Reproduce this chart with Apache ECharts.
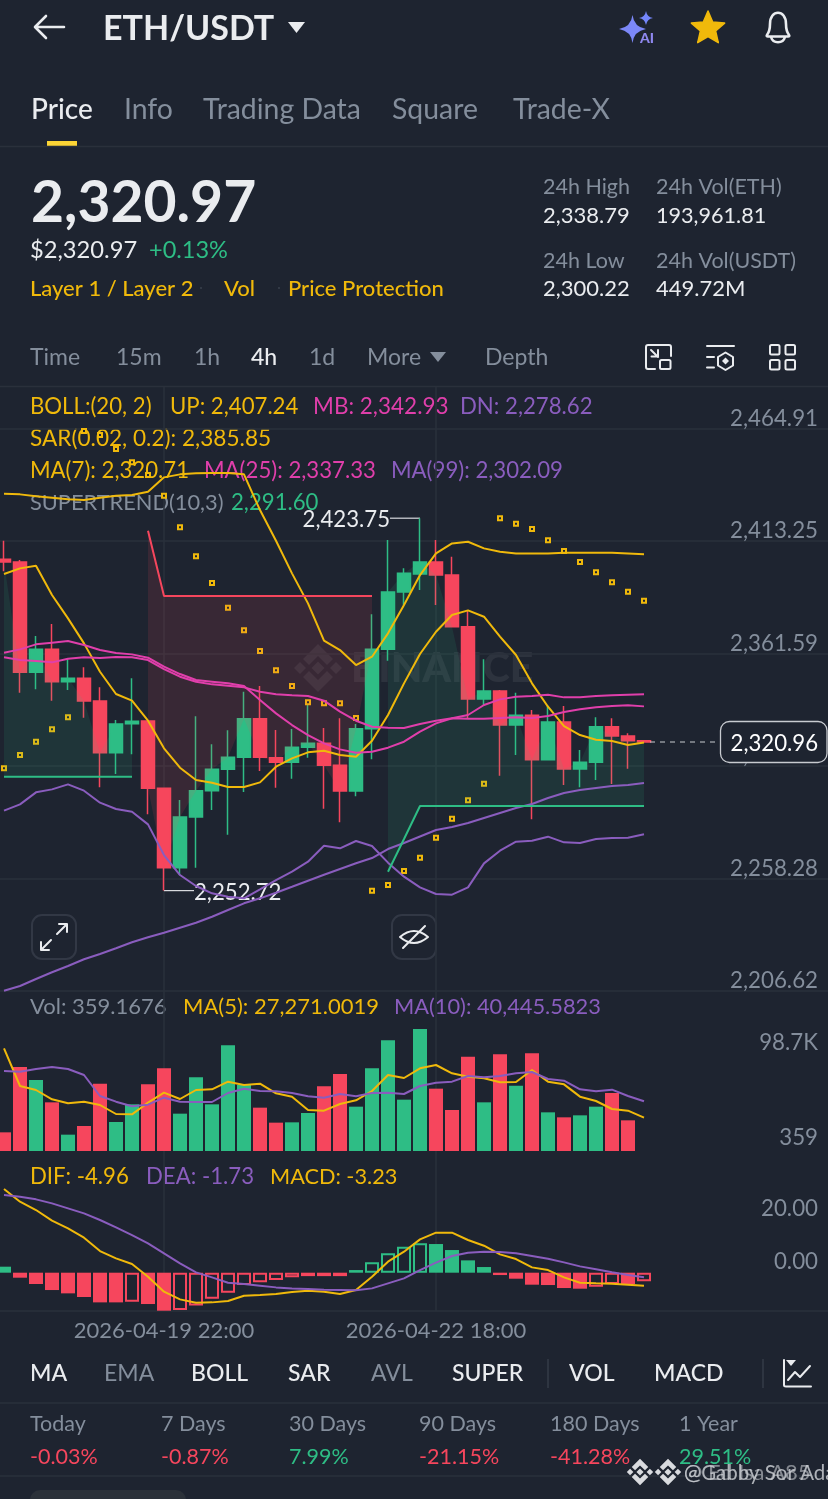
<!DOCTYPE html>
<html>
<head>
<meta charset="utf-8">
<script src="https://cdn.jsdelivr.net/npm/echarts@6/dist/echarts.min.js"></script>
<style>html,body{margin:0;padding:0;background:#1E2430}#c{width:828px;height:1499px}</style>
</head>
<body>
<div id="c"></div>
<script>
var categories = ['2026-04-18 06:00','2026-04-18 10:00','2026-04-18 14:00','2026-04-18 18:00','2026-04-18 22:00','2026-04-19 02:00','2026-04-19 06:00','2026-04-19 10:00','2026-04-19 14:00','2026-04-19 18:00','2026-04-19 22:00','2026-04-20 02:00','2026-04-20 06:00','2026-04-20 10:00','2026-04-20 14:00','2026-04-20 18:00','2026-04-20 22:00','2026-04-21 02:00','2026-04-21 06:00','2026-04-21 10:00','2026-04-21 14:00','2026-04-21 18:00','2026-04-21 22:00','2026-04-22 02:00','2026-04-22 06:00','2026-04-22 10:00','2026-04-22 14:00','2026-04-22 18:00','2026-04-22 22:00','2026-04-23 02:00','2026-04-23 06:00','2026-04-23 10:00','2026-04-23 14:00','2026-04-23 18:00','2026-04-23 22:00','2026-04-24 02:00','2026-04-24 06:00','2026-04-24 10:00','2026-04-24 14:00','2026-04-24 18:00','2026-04-24 22:00','','','','','','','','','','',''];
var dateLabels = ['2026-04-19 22:00','2026-04-22 18:00'];
var opens = [2404.85,2403.61,2352.96,2363.52,2348.64,2350.20,2339.78,2316.04,2329.36,2330.60,2299.69,2263.24,2286.52,2298.59,2308.42,2313.93,2331.65,2313.75,2311.63,2318.52,2320.36,2310.26,2298.45,2327.06,2363.52,2389.83,2398.10,2403.61,2397.64,2373.90,2340.70,2344.37,2328.76,2333.22,2312.83,2330.14,2308.56,2311.63,2327.98,2323.71,2321.55];
var closes = [2403.61,2352.96,2363.52,2348.64,2350.20,2339.78,2316.04,2329.22,2330.46,2299.69,2263.24,2286.52,2298.59,2308.42,2313.93,2331.65,2313.93,2311.63,2318.52,2320.36,2310.26,2298.45,2327.06,2363.52,2389.83,2398.42,2403.61,2397.64,2373.90,2340.70,2344.37,2328.76,2333.22,2312.83,2330.14,2308.56,2311.63,2327.98,2323.71,2321.55,2320.97];
var lows = [2399.34,2343.59,2345.15,2339.92,2344.83,2332.11,2300.15,2306.26,2315.31,2287.76,2252.72,2259.88,2263.24,2289.73,2278.39,2298.00,2307.64,2299.97,2304.10,2313.75,2290.33,2284.08,2296.02,2313.01,2358.29,2383.86,2390.75,2383.86,2373.90,2331.84,2337.94,2305.48,2314.99,2285.46,2312.83,2301.21,2300.15,2303.51,2301.67,2308.70,2320.63];
var highs = [2413.39,2404.53,2369.63,2375.14,2358.93,2355.26,2346.07,2331.06,2350.20,2330.60,2299.69,2294.32,2332.76,2319.90,2326.33,2344.05,2346.67,2326.46,2326.92,2340.24,2327.38,2331.84,2329.22,2379.59,2413.71,2400.71,2423.75,2413.71,2406.04,2381.57,2358.93,2344.83,2343.59,2335.65,2337.94,2337.49,2317.28,2332.30,2331.84,2324.95,2321.87];
var ma7 = [2398.10,2400.70,2401.93,2388.46,2377.74,2366.26,2353.25,2343.00,2339.94,2330.75,2318.05,2309.17,2303.51,2302.29,2300.30,2300.30,2302.44,2309.63,2313.46,2316.21,2316.98,2314.99,2314.22,2321.57,2333.36,2347.90,2361.37,2371.62,2379.27,2381.42,2378.51,2369.33,2360.91,2347.90,2337.18,2328.31,2324.17,2322.03,2321.42,2319.58,2320.71];
var ma25 = [2359.84,2358.61,2358.15,2357.54,2359.22,2359.84,2359.53,2359.99,2359.84,2358.61,2354.48,2350.96,2348.66,2347.44,2346.83,2346.06,2344.07,2342.85,2342.39,2342.08,2339.94,2334.89,2330.75,2328.00,2327.54,2327.39,2329.22,2330.75,2331.83,2331.67,2331.67,2331.98,2332.28,2331.98,2332.90,2334.73,2335.96,2336.88,2337.49,2337.80,2337.33];
var ma99 = [2206.76,2208.91,2212.13,2215.21,2218.10,2221.18,2223.61,2226.23,2228.98,2231.28,2233.39,2235.68,2237.98,2240.74,2243.81,2246.89,2249.18,2251.76,2254.51,2257.27,2260.02,2262.64,2265.26,2267.69,2271.82,2274.58,2277.56,2280.55,2281.92,2283.76,2286.06,2288.35,2290.65,2292.49,2295.24,2297.54,2298.91,2299.83,2300.75,2301.21,2302.09];
var bollUp = [2434.97,2434.69,2433.78,2433.13,2432.40,2432.08,2433.13,2434.05,2434.37,2435.89,2442.50,2443.88,2444.34,2444.47,2444.47,2443.88,2427.49,2413.41,2398.41,2384.63,2367.49,2363.20,2356.32,2360.14,2370.86,2383.87,2397.64,2407.59,2412.18,2412.95,2409.89,2408.36,2407.59,2407.59,2407.59,2407.90,2407.90,2407.90,2407.90,2407.59,2407.24];
var bollMid = [2361.98,2363.51,2365.81,2366.57,2367.34,2365.50,2363.20,2361.83,2361.21,2359.68,2355.55,2352.18,2349.43,2348.66,2347.90,2346.67,2340.24,2334.12,2328.76,2324.17,2320.35,2317.59,2316.06,2316.52,2318.36,2321.11,2325.70,2329.53,2331.83,2333.36,2337.95,2340.55,2341.77,2342.08,2342.69,2341.47,2341.47,2342.08,2342.39,2342.69,2342.93];
var bollDn = [2289.43,2292.34,2297.85,2299.22,2301.52,2298.61,2293.10,2290.19,2288.97,2283.15,2269.07,2259.89,2254.84,2251.47,2249.94,2249.17,2253.31,2257.59,2261.42,2266.01,2273.36,2272.13,2275.50,2273.20,2265.55,2259.12,2254.22,2251.16,2250.86,2254.22,2265.24,2271.06,2275.19,2275.65,2277.49,2274.89,2274.58,2276.42,2276.88,2277.03,2278.62];
var sar = [2308.88,2314.99,2321.09,2326.79,2332.30,2463.76,2461.92,2455.49,2449.39,2443.56,2434.05,2419.54,2406.22,2393.96,2382.62,2372.25,2362.74,2353.88,2346.67,2339.18,2338.73,2338.73,2331.98,2252.68,2255.29,2261.72,2267.83,2277.01,2285.74,2294.18,2301.81,2423.67,2421.19,2418.76,2413.57,2408.66,2403.61,2398.88,2394.29,2389.97,2385.85];
var superBull = [2305.02,2305.02,2305.02,2305.02,2305.02,2305.02,2305.02,2305.02,2305.02,null,null,null,null,null,null,null,null,null,null,null,null,null,null,null,2261.40,2276.41,2291.60,2291.60,2291.60,2291.60,2291.60,2291.60,2291.60,2291.60,2291.60,2291.60,2291.60,2291.60,2291.60,2291.60,2291.60];
var superBear = [null,null,null,null,null,null,null,null,null,2417.98,2388.00,2388.00,2388.00,2388.00,2388.00,2388.00,2388.00,2388.00,2388.00,2388.00,2388.00,2388.00,2388.00,2388.00];
var volumes = [15406,68071,57592,39589,13525,20512,54636,23736,37977,54099,66997,30453,59742,37977,85537,53562,35290,23199,23467,30991,52487,62429,36096,66997,89567,41739,98703,50606,33409,76401,39589,78282,53024,79088,31528,27498,29110,36096,47113,25079,359];
var volMa5 = [83119,52756,49531,42008,38783,40127,37440,30185,29916,39321,47382,42276,49531,50069,56249,53562,54636,46844,44157,33409,32872,38246,41201,48725,61623,59204,66997,69684,62966,60279,58936,55711,55980,65653,56249,54099,44157,40664,34215,32872,27271];
var volMa10 = [64847,64310,66459,68071,66459,61623,44695,40127,36365,37708,43351,40127,39858,39858,47113,50606,48725,48456,47113,44426,43351,46307,44426,47113,47382,46307,52756,55443,56249,60817,59742,60817,62966,64041,58398,57055,50069,48456,49800,44695,40445];
var macdHist = [2.28,-1.90,-4.30,-6.58,-7.84,-9.23,-11.26,-11.26,-11.00,-11.89,-14.55,-14.17,-12.40,-9.87,-7.59,-4.68,-3.67,-2.78,-1.77,-1.30,-1.30,-1.30,1.00,3.92,7.34,9.87,11.13,10.88,8.60,4.68,2.15,-0.89,-2.28,-4.55,-4.68,-5.82,-6.07,-5.31,-4.30,-4.30,-3.23];
var dif = [31.75,26.94,23.78,19.73,16.82,13.28,8.22,5.44,3.29,-1.52,-7.21,-10.12,-11.39,-11.26,-10.75,-8.73,-8.48,-8.10,-7.34,-6.83,-7.21,-8.10,-6.58,-1.52,4.17,7.97,12.65,15.18,15.18,12.40,10.25,6.96,5.19,2.02,1.01,-1.77,-3.80,-4.05,-4.17,-4.55,-4.96];
var dea = [29.47,28.84,27.83,26.31,24.41,22.52,19.99,17.20,14.29,11.13,7.34,3.54,0.13,-1.77,-3.80,-4.30,-4.93,-5.57,-5.95,-6.20,-6.45,-6.58,-6.70,-5.95,-4.05,-2.15,1.01,3.80,6.33,7.59,7.97,7.84,7.34,6.33,5.31,3.92,2.40,1.27,0.13,-0.89,-1.73];
var priceTicks = [2206.62,2258.28,2309.94,2361.59,2413.25,2464.91];
var volTicks = [359,98703];
var macdTicks = [0,20];
var extremes = [[26,2423.75,-1],[10,2252.72,1]];
var lastPrice = [[40,2320.96]];

var BG='#1E2430',GRID='#2A303B',GRAY='#848E9C',WHITE='#EAECEF',YEL='#F0B90B',PINK='#E03FAB',PUR='#8A5DBE',GRN='#2EBD85',RED='#F6465D';
var FONT='Lato, sans-serif';
function fmt(v){return Number(v).toLocaleString('en-US',{minimumFractionDigits:2,maximumFractionDigits:2});}

var G=[],pathCount=0;
function pathType(d){var name='iconPath'+(pathCount++);echarts.graphic.registerShape(name,echarts.graphic.extendPath(d,{}));return name;}
function t(x,y,s,c,size,w,o){G.push(Object.assign({type:'text',silent:true,style:{x:x,y:y+1,text:s,fill:c,font:(w||400)+' '+size+'px '+FONT,verticalAlign:'middle',align:'left'}},o||{}));}
function hline(y,x0,x1,c){G.push({type:'line',silent:true,shape:{x1:x0||0,y1:y,x2:x1||828,y2:y},style:{stroke:c||GRID,lineWidth:1.5}});}
function vline(x,y0,y1,c){G.push({type:'line',silent:true,shape:{x1:x,y1:y0,x2:x,y2:y1},style:{stroke:c||GRID,lineWidth:1.5}});}
function stroke(d,c,w){G.push({type:pathType(d),silent:true,style:{fill:null,stroke:c||WHITE,lineWidth:w||2.4,lineCap:'round',lineJoin:'round'}});}
function fill(d,c){G.push({type:pathType(d),silent:true,style:{fill:c,stroke:null}});}
function rr(x,y,w,h,r,c,lw){G.push({type:'rect',silent:true,shape:{x:x,y:y,width:w,height:h,r:r},style:{fill:null,stroke:c,lineWidth:lw||2}});}
function logo(cx,cy,s,c){
  var P=function(a){return a.map(function(p,i){return (i?'L':'M')+(cx+p[0]*s)+' '+(cy+p[1]*s);}).join(' ')+'Z';};
  fill(P([[0,-24],[15,-9],[9,-3],[0,-12],[-9,-3],[-15,-9]]),c);
  fill(P([[0,24],[15,9],[9,3],[0,12],[-9,3],[-15,9]]),c);
  fill(P([[0,-6.5],[6.5,0],[0,6.5],[-6.5,0]]),c);
  fill(P([[-18,-6],[-12,0],[-18,6],[-24,0]]),c);
  fill(P([[18,-6],[24,0],[18,6],[12,0]]),c);
}
// header
stroke('M36 27H64 M46 16L35 27L46 38',WHITE,2.6);
t(103,28,'ETH/USDT',WHITE,34,700);
fill('M288 22H305L296.5 33Z',WHITE);
fill('M632.5 15Q634 27 646 29Q634 31 632.5 43Q631 31 619 29Q631 27 632.5 15Z','#7C88F8');
fill('M646 11Q647 17 653 18Q647 19 646 25Q645 19 639 18Q645 17 646 11Z','#7486FB');
t(640,37,'AI','#8F88F0',14,900);
(function(){var p=[];for(var i=0;i<10;i++){var R=i%2?8:17.5,a=-Math.PI/2+i*Math.PI/5;p.push([708+R*Math.cos(a),28.5+R*Math.sin(a)]);}
G.push({type:'polygon',silent:true,shape:{points:p},style:{fill:YEL,stroke:YEL,lineWidth:1.5,lineJoin:'round'}});})();
stroke('M767 35Q770 31 770 24C770 9 786 9 786 24Q786 31 789 35Q790 36.5 788 36.5H768Q766 36.5 767 35Z M771 37C773 44 783 44 785 37',WHITE,2.6);
t(31,109,'Price',WHITE,28,500);
t(124,109,'Info',GRAY,28.4);
t(203,109,'Trading Data',GRAY,28.4);
t(392,109,'Square',GRAY,28.4);
t(513,109,'Trade-X',GRAY,28.4);
G.push({type:'rect',silent:true,shape:{x:47,y:141,width:30,height:5},style:{fill:'#FCD535'}});
hline(146.5);
// price block
t(31,203,'2,320.97',WHITE,57,700);
t(30,249,'$2,320.97',WHITE,23.7);
t(149,249,'+0.13%',GRN,23.5);
t(30,288,'Layer 1 / Layer 2',YEL,22,500);
t(224,288,'Vol',YEL,22,500);
t(288,288,'Price Protection',YEL,22,500);
hline(288,200,202,'#3A404C');hline(288,278,280,'#3A404C');
t(543,186,'24h High',GRAY,21.5);t(656,186,'24h Vol(ETH)',GRAY,21.5);
t(543,215,'2,338.79',WHITE,22);t(656,215,'193,961.81',WHITE,21.6);
t(543,260,'24h Low',GRAY,21.5);t(656,260,'24h Vol(USDT)',GRAY,21.5);
t(543,288,'2,300.22',WHITE,22);t(656,288,'449.72M',WHITE,22);
// toolbar
t(30,357,'Time',GRAY,23);t(116,357,'15m',GRAY,23);t(194,357,'1h',GRAY,23);t(251,357,'4h',WHITE,23,500);t(309,357,'1d',GRAY,23);t(367,357,'More',GRAY,23);
fill('M430 352H446L438 362Z',GRAY);
t(485,357,'Depth',GRAY,23);
stroke('M655 369H648Q646 369 646 367V347Q646 345 648 345H669Q671 345 671 347V356 M651 350L658 357 M651.5 356.5H658V350',WHITE,2);
rr(660,360,10.5,9,1.5,WHITE,2);
stroke('M707 346H734 M707 357H714 M707 367.5H714',WHITE,2);
stroke('M725.5 352.5L733 357V365.5L725.5 370L718 365.5V357Z',WHITE,2);
fill('M725.5 357.5L729 361L725.5 364.5L722 361Z',WHITE);
rr(770,345,9.5,9.5,1.5,WHITE,2);rr(785.5,345,9.5,9.5,1.5,WHITE,2);rr(770,360,9.5,9.5,1.5,WHITE,2);rr(785.5,360,9.5,9.5,1.5,WHITE,2);
hline(386.5);
// watermark
logo(318,668,1,'rgba(255,255,255,0.07)');
t(351,668,'BINANCE','rgba(255,255,255,0.07)',41,900);
// indicator legends
var L=22.2;
t(30,406,'BOLL:(20, 2)',YEL,L);t(170,406,'UP: 2,407.24',YEL,L);t(313,406,'MB: 2,342.93',PINK,22.5);t(460,406,'DN: 2,278.62',PUR,L);
t(30,438,'SAR(0.02, 0.2): 2,385.85',YEL,22.6);
t(30,470,'MA(7): 2,320.71',YEL,L);t(204,470,'MA(25): 2,337.33',PINK,L);t(391,470,'MA(99): 2,302.09',PUR,L);
t(30,502,'SUPERTREND(10,3)',GRAY,L-0.4);t(231,502,'2,291.60',GRN,L);
t(30,1006,'Vol: 359.1676',GRAY,22);t(183,1006,'MA(5): 27,271.0019',YEL,22);t(394,1006,'MA(10): 40,445.5823',PUR,21.8);
t(30,1176,'DIF: -4.96',YEL,L);t(146,1176,'DEA: -1.73',PUR,L);t(270,1176,'MACD: -3.23',YEL,21.7);
// chart buttons
rr(32,915,44,44,10,'#323845',2);
stroke('M57 934L67 924M59 924H67V932 M51 940L41 950M41 942V950H49',WHITE,2);
rr(392,915,44,44,10,'#323845',2);
stroke('M400 937Q414 925 428 937Q414 949 400 937Z M403 948L425 926',WHITE,2);
// footer
var btn=[[30,'MA',WHITE],[104,'EMA',GRAY],[191,'BOLL',WHITE],[288,'SAR',WHITE],[371,'AVL',GRAY],[452,'SUPER',WHITE],[569,'VOL',WHITE],[654,'MACD',WHITE]];
btn.forEach(function(b){t(b[0],1373,b[1],b[2],23,b[2]===WHITE?500:400);});
vline(548,1359,1388,'#353B47');vline(763,1359,1388,'#353B47');
stroke('M784 1360V1385Q784 1386.5 786 1386.5H811 M788 1380L795 1372L800 1377L810 1366',WHITE,2);
fill('M786 1360H796L791 1366Z',WHITE);
hline(1403);
[[30,'Today','-0.03%',RED],[161,'7 Days','-0.87%',RED],[289,'30 Days','7.99%',GRN],[419,'90 Days','-21.15%',RED],[550,'180 Days','-41.28%',RED],[679,'1 Year','29.51%',GRN]].forEach(function(r){
  t(r[0],1423,r[1],GRAY,21.5);t(r[0],1456,r[2],r[3],21.5);
});
hline(1476);
G.push({type:'rect',silent:true,shape:{x:30,y:1490,width:156,height:20,r:[10,10,0,0]},style:{fill:'#2B3139'}});
logo(640,1472,0.55,'#D9DBDF');logo(668,1472,0.55,'#D9DBDF');
t(684,1472,'@Gabby Sor Ada','rgba(200,203,208,0.85)',20.5);
t(684,1472,'@ Ed Isa A85','rgba(200,203,208,0.6)',22);

function xAxis(i,extra){return Object.assign({type:'category',gridIndex:i,data:categories,boundaryGap:true,axisLine:{show:false},axisTick:{show:false},axisLabel:{show:false},splitLine:{show:false}},extra||{});}
function lineS(name,data,color,xi,w){return {name:name,type:'line',xAxisIndex:xi,yAxisIndex:xi,data:data,showSymbol:false,symbol:'none',smooth:false,silent:true,connectNulls:false,lineStyle:{color:color,width:w||2}};}
function labelAxis(i,min,max,ticks,fm,extraLabel){
  return {type:'value',gridIndex:i,position:'right',min:min,max:max,axisLine:{show:false},
    axisTick:{show:false,customValues:ticks},
    axisLabel:Object.assign({show:true,inside:true,margin:10,customValues:ticks,formatter:fm,color:GRAY,fontSize:22.3,lineHeight:20,fontFamily:FONT,verticalAlign:'bottom'},extraLabel||{}),
    splitLine:{show:false}};
}
function stackBase(a){return a.map(function(v,i){return v==null||closes[i]==null?null:Math.min(v,closes[i]);});}
function stackDiff(a){return a.map(function(v,i){return v==null||closes[i]==null?null:Math.abs(v-closes[i]);});}
function area(stack,data,color,base){
  var s=lineS(stack,data,'transparent',0,0);s.stack=stack;s.lineStyle={opacity:0,width:0};
  if(!base)s.areaStyle={color:color,opacity:1};
  return s;
}
var mainY=labelAxis(0,2206.62,2484.0,priceTicks,function(v){return fmt(v);});
mainY.splitLine={show:true,lineStyle:{color:GRID,width:1.5}};
var volY=labelAxis(1,359,98703,volTicks,function(v){return v>1000?(v/1000).toFixed(1)+'K':String(v);},{verticalAlignMinLabel:'bottom',verticalAlignMaxLabel:'top',padding:[4,0,3,0]});
var macdY=labelAxis(2,-14.42,32.9,macdTicks,function(v){return v.toFixed(2);},{padding:[0,0,1,0]});

var option={
  backgroundColor:BG,animation:false,
  textStyle:{fontFamily:FONT},
  graphic:G,
  grid:[
    {left:-4,width:832,top:387,height:604,outerBoundsMode:'none'},
    {left:-4,width:832,top:1029,height:122,outerBoundsMode:'none'},
    {left:-4,width:832,top:1186,height:124.7,outerBoundsMode:'none'},
    {left:-4,width:832,top:387,height:924,outerBoundsMode:'none'}
  ],
  xAxis:[xAxis(0),xAxis(1),xAxis(2),
    xAxis(3,{axisLine:{show:true,lineStyle:{color:GRID,width:1.5}},
      axisLabel:{show:true,margin:9,color:GRAY,fontSize:22,fontFamily:FONT,hideOverlap:false,
        interval:function(i,v){return dateLabels.indexOf(v)>=0;}},
      axisTick:{show:false,alignWithLabel:true},
      splitLine:{show:true,alignWithLabel:true,interval:function(i,v){return dateLabels.indexOf(v)>=0;},lineStyle:{color:GRID,width:1.5}}})],
  yAxis:[mainY,volY,macdY,{type:'value',gridIndex:3,min:0,max:1,show:false,splitLine:{show:false}}],
  series:[
    {type:'line',xAxisIndex:3,yAxisIndex:3,data:[],silent:true},
    {name:'K',type:'candlestick',xAxisIndex:0,yAxisIndex:0,barWidth:13,silent:true,
      data:opens.map(function(o,i){return [o,closes[i],lows[i],highs[i]];}),
      itemStyle:{color:GRN,color0:RED,borderColor:GRN,borderColor0:RED,borderColorDoji:RED,borderWidth:1.5}},
    area('bull',stackBase(superBull),null,true),
    area('bull',stackDiff(superBull),'rgba(46,189,133,0.11)'),
    area('bear',stackBase(superBear),null,true),
    area('bear',stackDiff(superBear),'rgba(246,70,93,0.12)'),
    {type:'custom',xAxisIndex:0,yAxisIndex:0,data:extremes,silent:true,clip:false,encode:{x:0,y:1},
      renderItem:function(p,api){
        var c=api.coord([api.value(0),api.value(1)]),d=api.value(2);
        var end=c[0]+d*30;
        return {type:'group',children:[
          {type:'line',shape:{x1:c[0],y1:c[1],x2:end,y2:c[1]},style:{stroke:'#D8DADE',lineWidth:1.2}},
          {type:'text',style:{x:end,y:c[1]+2,text:fmt(api.value(1)),fill:WHITE,font:'400 22.2px '+FONT,align:d>0?'left':'right',verticalAlign:'middle'}}
        ]};
      }},
    lineS('Up',bollUp,YEL,0),
    lineS('MA7',ma7,YEL,0),
    lineS('MB',bollMid,PINK,0),
    lineS('MA25',ma25,PINK,0),
    lineS('DN',bollDn,PUR,0),
    lineS('MA99',ma99,PUR,0),
    lineS('SuperBull',superBull,GRN,0),
    lineS('SuperBear',superBear,RED,0),
    {name:'SAR',type:'scatter',xAxisIndex:0,yAxisIndex:0,data:sar,symbol:'rect',symbolSize:4,silent:true,clip:false,
      itemStyle:{color:BG,borderColor:YEL,borderWidth:2,opacity:1}},
    {type:'custom',xAxisIndex:0,yAxisIndex:0,data:lastPrice,silent:true,clip:false,encode:{x:0,y:1},z:20,
      renderItem:function(p,api){
        var c=api.coord([api.value(0),api.value(1)]);
        return {type:'group',children:[
          {type:'line',shape:{x1:c[0]+6,y1:c[1],x2:720,y2:c[1]},style:{stroke:'#C8CBD0',lineWidth:1.2,lineDash:[5,5]}},
          {type:'rect',shape:{x:720.5,y:c[1]-20.5,width:106.5,height:41,r:9},style:{fill:BG,stroke:'#C8CBD0',lineWidth:1.3}},
          {type:'text',style:{x:818,y:c[1]+2,text:fmt(api.value(1)),fill:'#FFFFFF',font:'400 22.2px '+FONT,align:'right',verticalAlign:'middle'}}
        ]};
      }},
    {name:'Vol',type:'bar',xAxisIndex:1,yAxisIndex:1,barWidth:14,silent:true,
      data:volumes.map(function(v,i){return {value:v,itemStyle:{color:closes[i]>=opens[i]?GRN:RED}};})},
    lineS('VolMA5',volMa5,YEL,1),
    lineS('VolMA10',volMa10,PUR,1),
    {name:'MACD',type:'bar',xAxisIndex:2,yAxisIndex:2,barWidth:14,silent:true,
      data:macdHist.map(function(v,i){
        var c=v>=0?GRN:RED,hollow=i>0&&v>macdHist[i-1];
        return {value:v,itemStyle:hollow?{color:'transparent',borderColor:c,borderWidth:2}:{color:c}};
      })},
    lineS('DIF',dif,YEL,2),
    lineS('DEA',dea,PUR,2)
  ]
};
var chart=echarts.init(document.getElementById('c'),null,{renderer:'canvas',width:828,height:1499});
chart.setOption(option);
</script>
</body>
</html>
